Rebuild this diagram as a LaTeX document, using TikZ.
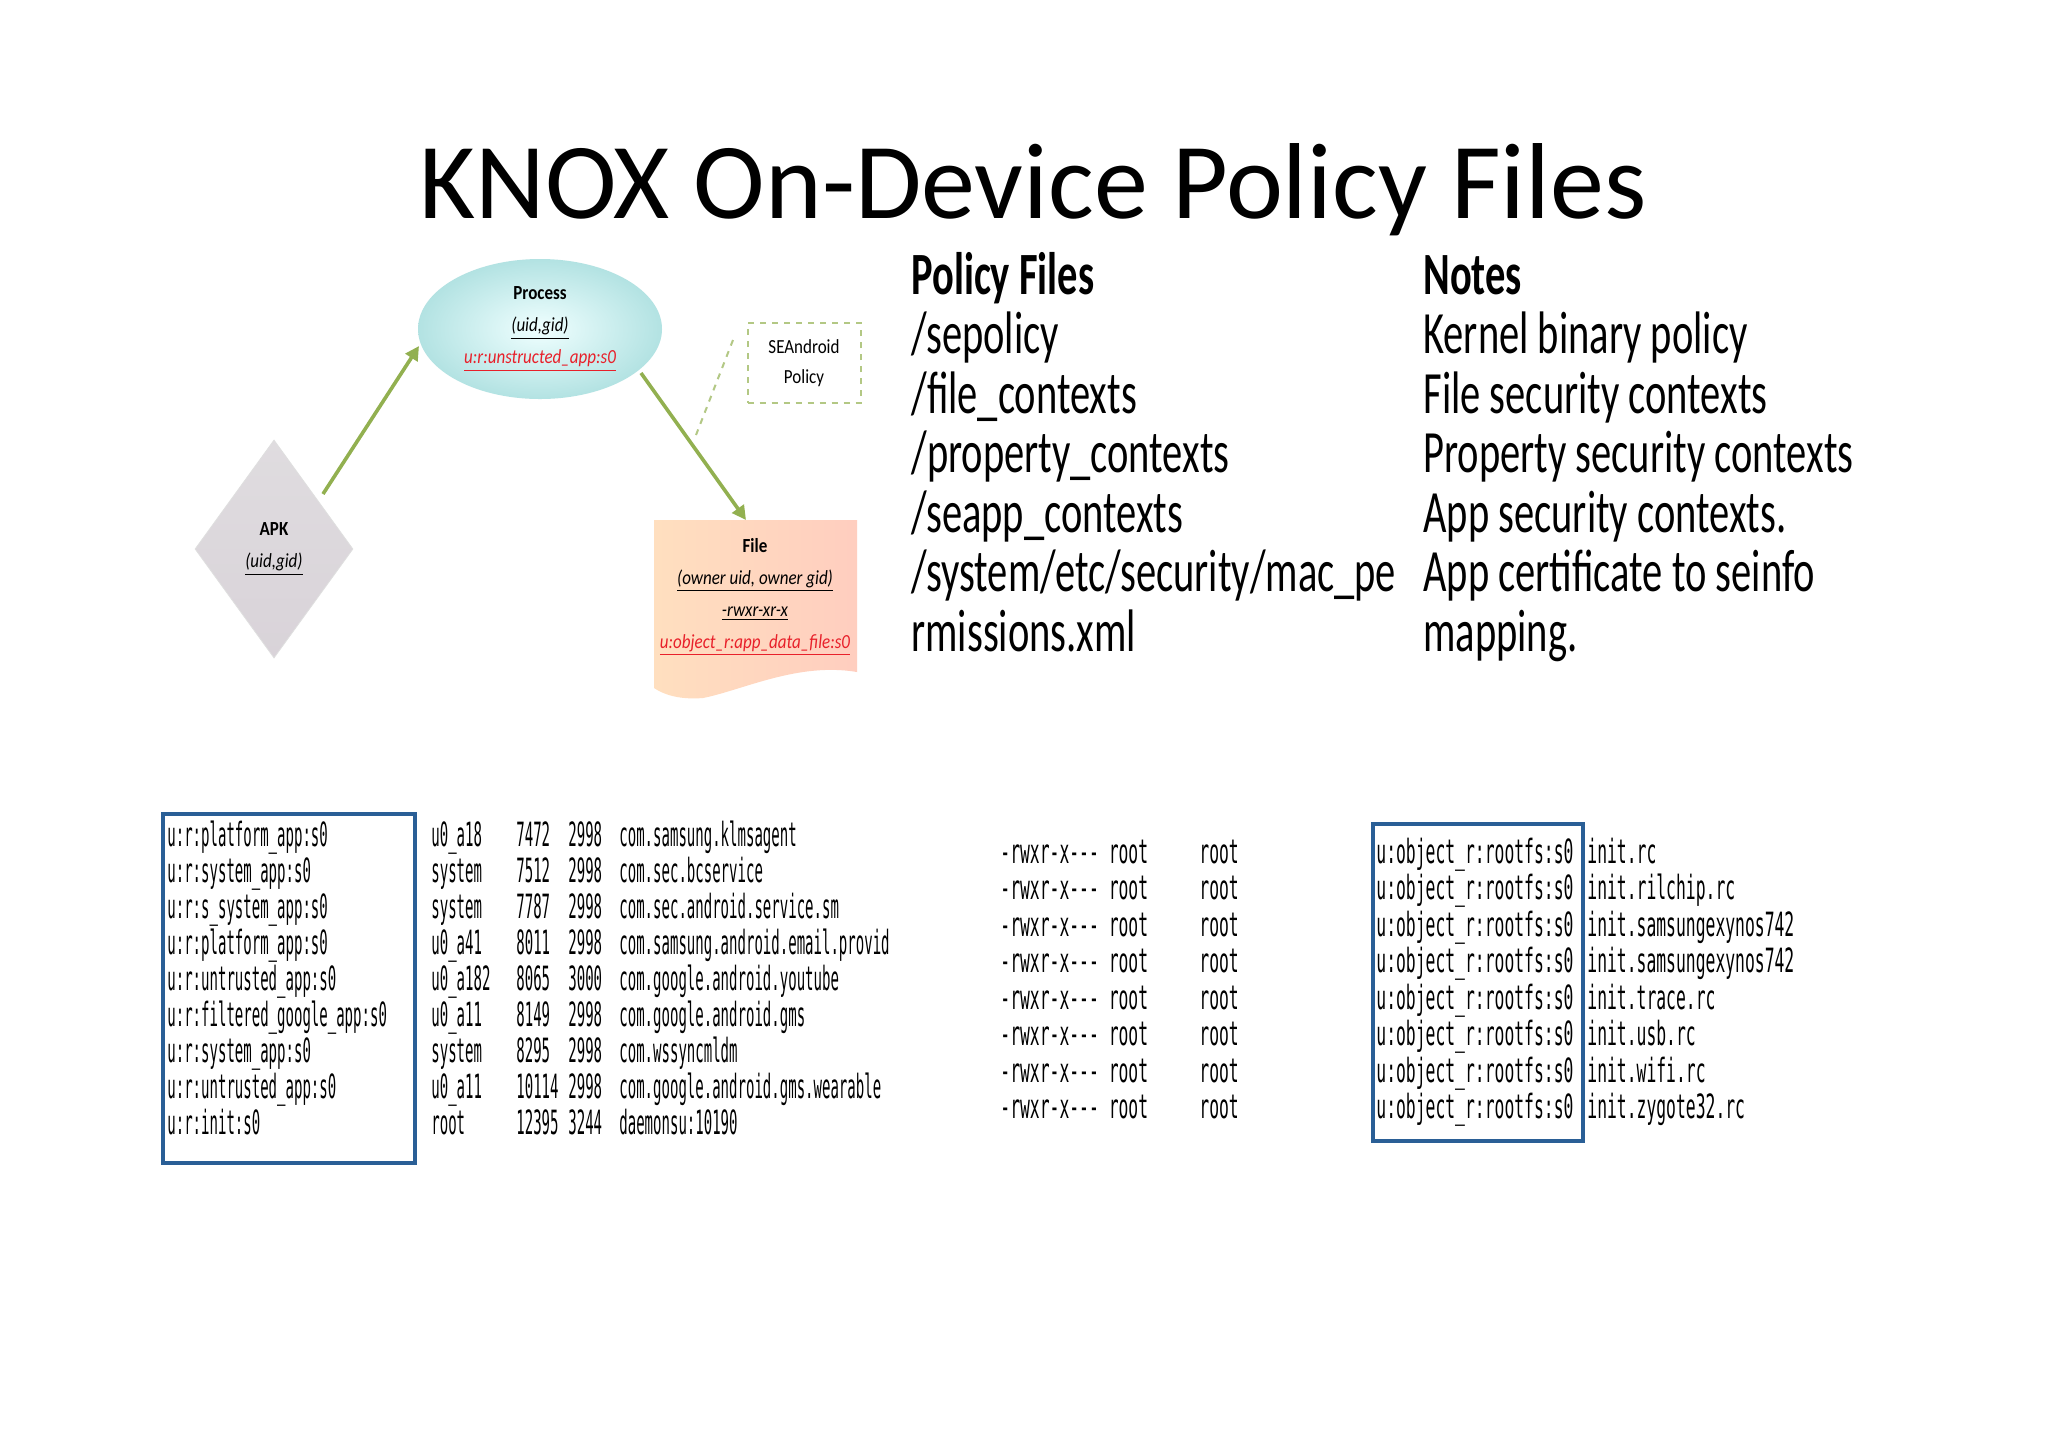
\documentclass[tikz,border=0pt]{standalone}
\usepackage{fontspec}
\setmainfont{Carlito}
\newfontfamily\narrowf[FakeStretch=0.675]{Carlito}
\newfontfamily\diagf[FakeStretch=0.85]{Carlito}
\newfontfamily\monof[FakeStretch=0.42]{DejaVu Sans Mono}
\newfontfamily\monoB[FakeStretch=0.49]{DejaVu Sans Mono}
\usetikzlibrary{shapes.geometric,arrows.meta}
\definecolor{grn}{HTML}{92B050}
\definecolor{bluebox}{HTML}{2A5F96}
\definecolor{redt}{HTML}{E8202A}
\tikzset{
  pf/.style={anchor=base west,inner sep=0pt,font=\narrowf\fontsize{30}{34}\selectfont},
  pfh/.style={pf,font=\narrowf\bfseries\fontsize{30}{34}\selectfont},
  mono/.style={anchor=base west,inner sep=0pt,font=\monof\fontsize{16.7}{18}\selectfont},
  monob/.style={anchor=base west,inner sep=0pt,font=\monoB\fontsize{16.7}{18}\selectfont},
  dg/.style={font=\diagf\fontsize{10}{13}\selectfont,align=center},
  garrow/.style={grn,line width=1.8pt,-{Triangle[length=7pt,width=7pt]}},
  bbox/.style={draw=bluebox,line width=2pt}
}
\begin{document}
\begin{tikzpicture}[x=0.5pt,y=-0.5pt]
\useasboundingbox[fill=white] (0,0) rectangle (2048,1447);
\node[font=\fontsize{54}{62}\selectfont] (title) at (1033,190) {KNOX On-Device Policy Files};
% diagram
\node[ellipse,minimum width=122pt,minimum height=70pt,inner sep=0pt,
  inner color=cyan!6!white,outer color=cyan!25!teal!30!white] (proc) at (540,329) {};
\node[dg] at (proc.center) {\textbf{Process}\\[3pt]\textit{\underline{(uid,gid)}}\\[3pt]\textcolor{redt}{\textit{\underline{u:r:unstructed\_app:s0}}}};
\node[diamond,minimum width=79pt,minimum height=109pt,inner sep=0pt,aspect=0.72,
  shading=axis,top color=violet!10!gray!25,bottom color=violet!15!gray!30,draw=gray!25] (apk) at (274,549) {};
\node[dg] at (apk.center) {\textbf{APK}\\[3pt]\textit{\underline{(uid,gid)}}};
\node[draw=grn!70,dashed,line width=1pt,minimum width=56.5pt,minimum height=40pt,dg] (sea) at (804,363) {SEAndroid\\[2pt]Policy};
\path[left color=orange!25,right color=orange!45!red!25!white]
  (654,520) -- (857,520) -- (857,672) .. controls (798,662) and (743,690) .. (703,698) .. controls (678,700) and (663,694) .. (654,688) -- cycle;
\coordinate (filetop) at (746,520);
\coordinate (procin) at (419,346);
\node[dg] (file) at (755,597) {\textbf{File}\\[3pt]\textit{\underline{(owner uid, owner gid)}}\\[3pt]\textit{\underline{-rwxr-xr-x}}\\[3pt]\textcolor{redt}{\textit{\underline{u:object\_r:app\_data\_file:s0}}}};
\draw[garrow] (323,494) -- (procin);
\draw[garrow] (641,373) -- (filetop);
\coordinate (dA) at (733,340);
\coordinate (dB) at (696,435);
\draw[grn!70,dashed,line width=1pt] (dA) -- (dB);
% policy table
\node[pfh] (h1) at (911,294) {Policy Files};
\node[pfh] (h2) at (1423,294) {Notes};
\foreach \a/\b [count=\i] in {{/sepolicy}/{Kernel binary policy},{/file\_contexts}/{File security contexts},{/property\_contexts}/{Property security contexts},{/seapp\_contexts}/{App security contexts.},{/system/etc/security/mac\_pe}/{App certificate to seinfo},{rmissions.xml}/{mapping.}}{
  \node[pf] (p\i) at (911,294+\i*59.5) {\a};
  \node[pf] (n\i) at (1423,294+\i*59.5) {\b};
}
% bottom tables
\draw[bbox] (163,814) rectangle (415,1163);
\foreach \ctx/\u/\pid/\pp/\nm [count=\i] in {
 u:r:platform\_app:s0/u0\_a18/7472/2998/com.samsung.klmsagent,
 u:r:system\_app:s0/system/7512/2998/com.sec.bcservice,
 u:r:s\_system\_app:s0/system/7787/2998/com.sec.android.service.sm,
 u:r:platform\_app:s0/u0\_a41/8011/2998/com.samsung.android.email.provid,
 u:r:untrusted\_app:s0/u0\_a182/8065/3000/com.google.android.youtube,
 u:r:filtered\_google\_app:s0/u0\_a11/8149/2998/com.google.android.gms,
 u:r:system\_app:s0/system/8295/2998/com.wssyncmldm,
 u:r:untrusted\_app:s0/u0\_a11/10114/2998/com.google.android.gms.wearable,
 u:r:init:s0/root/12395/3244/daemonsu:10190}{
  \node[mono] (c\i) at (167,846+\i*36-36) {\ctx};
  \node[mono] (u\i) at (431,846+\i*36-36) {\u};
  \node[mono] (d\i) at (516,846+\i*36-36) {\pid};
  \node[mono] (q\i) at (568,846+\i*36-36) {\pp};
  \node[mono] (m\i) at (619,846+\i*36-36) {\nm};
}
\draw[bbox] (1373,824) rectangle (1583,1141);
\foreach \f [count=\i] in {init.rc,init.rilchip.rc,init.samsungexynos742,init.samsungexynos742,init.trace.rc,init.usb.rc,init.wifi.rc,init.zygote32.rc}{
  \node[monob] (r\i) at (1000,863+\i*36.5-36.5) {-rwxr-x--- root};
  \node[monob] (o\i) at (1199,863+\i*36.5-36.5) {root};
  \node[monob] (s\i) at (1376,863+\i*36.5-36.5) {u:object\_r:rootfs:s0};
  \node[monob] (f\i) at (1587,863+\i*36.5-36.5) {\f};
}
\end{tikzpicture}
\end{document}
